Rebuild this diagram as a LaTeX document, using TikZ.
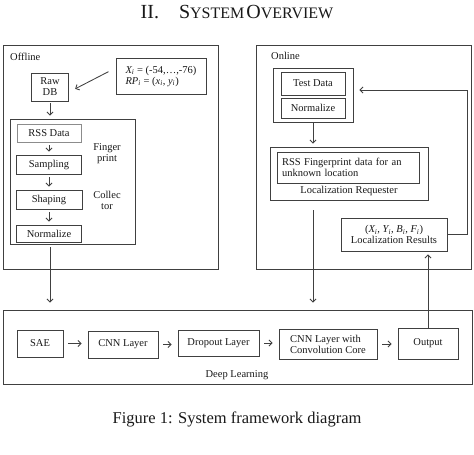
\documentclass[tikz,border=0pt]{standalone}
\usepackage{fontspec}
\setmainfont{Liberation Serif}
\usetikzlibrary{arrows.meta}

\begin{document}
\begin{tikzpicture}[x=1pt,y=-1pt,
		box/.style={draw=black!75, line width=0.85pt, inner sep=1pt, align=center, text=black!90, font=\fontsize{10.5}{11}\selectfont},
		lbl/.style={inner sep=0pt, align=center, text=black!90, font=\fontsize{10.5}{11}\selectfont},
		arr/.style={draw=black!75, line width=0.85pt, -{Straight Barb[length=3pt,width=6pt]}}]

		\useasboundingbox (0,0) rectangle (474,455);
		\fill[white] (0,0) rectangle (474,455);

		% heading and caption
		\node[lbl, font=\fontsize{20}{21}\selectfont] (head) at (237,12) {II.\quad S{\fontsize{16}{17}\selectfont YSTEM}\hspace{2pt}O{\fontsize{16}{17}\selectfont VERVIEW}};
		\node[lbl, font=\fontsize{16.5}{17}\selectfont] (caption) at (237,419) {Figure 1: System framework diagram};

		% offline
		\node[box, minimum width=215pt, minimum height=224pt] (offline) at (110.5,157) {};
		\node[lbl, anchor=west] (offlbl) at (10,57) {Offline};
		\node[box, minimum width=37pt, minimum height=28pt] (rawdb) at (50,87) {Raw\\DB};
		\node[box, minimum width=90pt, minimum height=36pt, align=left] (xi) at (161,76) {\textit{X\textsubscript{i}} = (-54,\ldots,-76)\\\textit{RP\textsubscript{i}} = (\textit{x\textsubscript{i}}, \textit{y\textsubscript{i}})};
		\node[box, minimum width=125pt, minimum height=125pt] (collector) at (72.5,181.5) {};
		\node[box, draw=black!45, minimum width=64pt, minimum height=18pt] (rss) at (49,133) {RSS Data};
		\node[box, minimum width=65pt, minimum height=19pt] (sampling) at (49,164.5) {Sampling};
		\node[box, minimum width=66pt, minimum height=19pt] (shaping) at (49,199.5) {Shaping};
		\node[box, minimum width=65pt, minimum height=17pt] (offnorm) at (49,233.5) {Normalize};
		\node[lbl] (fp) at (107,154) {Finger\\print};
		\node[lbl] (coll) at (107,200) {Collec\\tor};

		% online
		\node[box, minimum width=215pt, minimum height=224pt] (online) at (363.5,157) {};
		\node[lbl, anchor=west] (onlbl) at (271,56) {Online};
		\node[box, minimum width=80pt, minimum height=54pt] (testbox) at (313,95) {};
		\node[box, minimum width=64pt, minimum height=23pt] (testdata) at (313,83.5) {Test Data};
		\node[box, minimum width=64pt, minimum height=20pt] (onnorm) at (313,108) {Normalize};
		\node[box, minimum width=158pt, minimum height=53pt] (requester) at (349,173.5) {};
		\node[box, minimum width=142pt, minimum height=31pt, align=left, text width=132pt] (fpdata) at (348,167.5) {RSS Fingerprint data for an\\unknown location};
		\node[lbl] (reqlbl) at (349,191) {Localization Requester};
		\node[box, minimum width=106pt, minimum height=33pt] (results) at (394,234.5) {(\textit{X\textsubscript{i}}, \textit{Y\textsubscript{i}}, \textit{B\textsubscript{i}}, \textit{F\textsubscript{i}})\\Localization Results};
		\coordinate (fbtop) at (467,90);

		% deep learning
		\node[box, minimum width=469pt, minimum height=74pt] (dl) at (237.5,347) {};
		\node[box, minimum width=46pt, minimum height=27pt] (sae) at (40,343.5) {SAE};
		\node[box, minimum width=70pt, minimum height=27pt] (cnn) at (123,344.5) {CNN Layer};
		\node[box, minimum width=81pt, minimum height=26pt] (dropout) at (218.5,343) {Dropout Layer};
		\node[box, minimum width=98pt, minimum height=30pt, align=left] (cnnconv) at (328,344) {CNN Layer with\\Convolution Core};
		\node[box, minimum width=60pt, minimum height=31pt] (output) at (428,343.5) {Output};
		\node[lbl] (dllbl) at (237,375) {Deep Learning};

		% connectors
		\draw[arr, shorten <=8pt, shorten >=7pt] (xi.170) -- (rawdb.-15);
		\draw[arr, shorten <=2pt, shorten >=3pt] (rawdb.south) -- (rawdb.south |- collector.north);
		\foreach \a/\b in {rss/sampling, sampling/shaping, shaping/offnorm}
			\draw[arr, shorten <=3pt, shorten >=3pt] (\a.south) -- (\b.north);
		\draw[arr, shorten <=3pt, shorten >=7pt] (rawdb.south |- collector.south) -- (rawdb.south |- dl.north);
		\draw[arr, shorten >=3pt] (testbox.south) -- (testbox.south |- requester.north);
		\draw[arr, shorten <=10pt, shorten >=7pt] (testbox.south |- requester.south) -- (testbox.south |- dl.north);
		\draw[arr, shorten >=6pt] (results.east) -| (fbtop) -- (fbtop -| testbox.east);
		\draw[arr, shorten >=3pt] (output.north) -- (output.north |- results.south);
		\foreach \a/\b in {sae/cnn, cnn/dropout, dropout/cnnconv, cnnconv/output}
			\draw[arr, shorten <=5pt, shorten >=6pt] (\a.east) -- (\a.east -| \b.west);

\end{tikzpicture}
\end{document}
